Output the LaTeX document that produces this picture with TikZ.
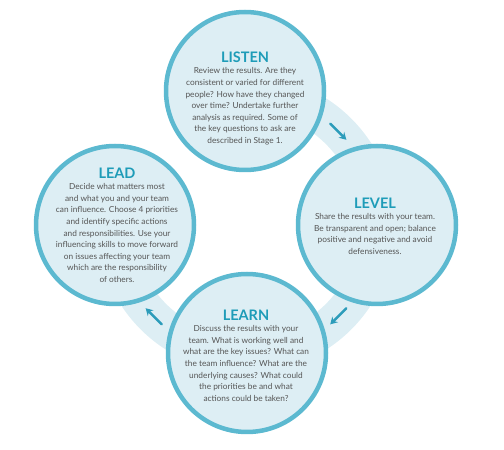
\documentclass[tikz,border=0pt]{standalone}
\usepackage{fontspec}
\setmainfont{Lato}
\usetikzlibrary{positioning,arrows.meta}
\definecolor{ringfill}{HTML}{DDEEF4}
\definecolor{ringedge}{HTML}{5CB9D0}
\definecolor{headteal}{HTML}{1E9CB8}
\definecolor{bodygray}{HTML}{555555}
\definecolor{arrowteal}{HTML}{2C9CBA}
\begin{document}
\begin{tikzpicture}[x=1pt, y=1pt, line cap=round, line join=round]
			\tikzset{
				stage_circle/.style={circle, draw=ringedge, line width=4.5pt, fill=ringfill, minimum size=158pt, inner sep=0pt},
				stage_title/.style={font=\fontsize{14.5}{16}\selectfont\bfseries, text=headteal, inner sep=0pt},
				stage_text/.style={font=\fontsize{8.3}{11.6}\selectfont, text=bodygray, align=center, inner sep=0pt},
				cycle_band/.style={draw=ringfill, line width=36pt, line cap=butt},
				cycle_arrow/.style={draw=arrowteal, line width=2.4pt, -{Stealth[length=7pt, width=8pt]}}
			}
			\useasboundingbox (0,0) rectangle (504,450);
			\coordinate (hub) at (246,226);
			\def\radius{131}
			% pale band behind the circles
			\draw[cycle_band] ([shift={(90:\radius)}]hub) arc[start angle=90, end angle=-180, radius=\radius];
			% arrows in the three gaps
			\foreach \angle in {45, -45, -135} {
				\coordinate (tail\angle) at ([shift={(\angle+5:\radius)}]hub);
				\coordinate (head\angle) at ([shift={(\angle-5:\radius)}]hub);
				\draw[cycle_arrow] (tail\angle) -- (head\angle);
			}
			% the four stages
			\node[stage_circle] (listen) at (245,359) {};
			\node[stage_circle] (level) at (377,225) {};
			\node[stage_circle] (learn) at (247,97) {};
			\node[stage_circle] (lead) at (115,225) {};
			\node[stage_title] (listen_t) at (245,393) {LISTEN};
			\node[stage_text, below=5pt of listen_t] (listen_b) {Review the results. Are they\\consistent or varied for different\\people? How have they changed\\over time? Undertake further\\analysis as required. Some of\\the key questions to ask are\\described in Stage 1.};
			\node[stage_title] (level_t) at (375,247) {LEVEL};
			\node[stage_text, below=5pt of level_t] (level_b) {Share the results with your team.\\Be transparent and open; balance\\positive and negative and avoid\\defensiveness.};
			\node[stage_title] (learn_t) at (246,135) {LEARN};
			\node[stage_text, below=5pt of learn_t] (learn_b) {Discuss the results with your\\team. What is working well and\\what are the key issues? What can\\the team influence? What are the\\underlying causes? What could\\the priorities be and what\\actions could be taken?};
			\node[stage_title] (lead_t) at (117,277) {LEAD};
			\node[stage_text, below=5pt of lead_t] (lead_b) {Decide what matters most\\and what you and your team\\can influence. Choose 4 priorities\\and identify specific actions\\and responsibilities. Use your\\influencing skills to move forward\\on issues affecting your team\\which are the responsibility\\of others.};
		\end{tikzpicture}
\end{document}
